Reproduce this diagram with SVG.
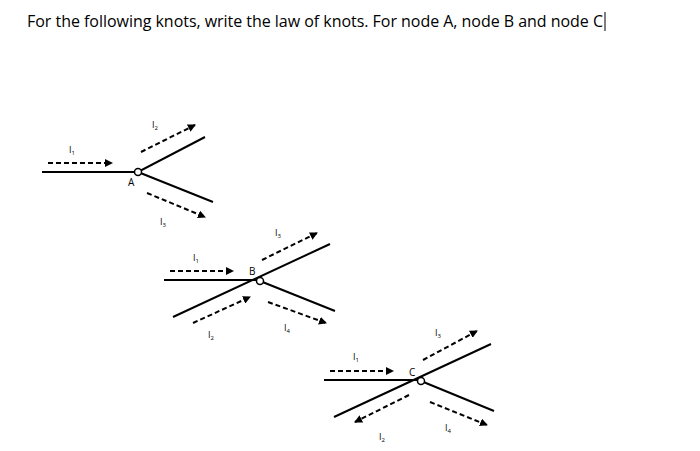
<svg xmlns="http://www.w3.org/2000/svg" width="700" height="451" viewBox="0 0 700 451">
<style>
.w{stroke:#000;stroke-width:2;fill:none}
.d{stroke:#000;stroke-width:2;stroke-dasharray:5,3;fill:none;marker-end:url(#ah)}
.n{fill:#fff;stroke:#000;stroke-width:1.5}
text{font-family:"Open Sans","Liberation Sans",sans-serif;fill:#000}
.l{font-size:9px}
</style>
<defs><marker id="ah" markerWidth="8" markerHeight="8" refX="7" refY="4" orient="auto" markerUnits="userSpaceOnUse"><path d="M0,0L8,4L0,8z"/></marker></defs>
<rect width="700" height="451" fill="#fff"/>
<text x="27" y="27" font-size="16" textLength="576">For the following knots, write the law of knots. For node A, node B and node C</text>
<line x1="605" y1="12" x2="605" y2="31" stroke="#000" stroke-width="1"/>
<g id="connectors">
<path class="w" d="M42,172H138L205,137M138,172L213,202"/>
<path class="d" d="M48,163H112"/><path class="d" d="M141,152L195,125"/><path class="d" d="M147,193L205,217"/>
<path class="w" d="M164,280H260M173,317L330,244M260,281L335,311"/>
<path class="d" d="M170,271H233"/><path class="d" d="M262,260L317,233"/><path class="d" d="M193,323L250,297"/><path class="d" d="M268,302L326,323"/>
<path class="w" d="M324,380H421M334,417L491,344M421,381L494,411"/>
<path class="d" d="M330,371H393"/><path class="d" d="M423,360L477,331"/><path class="d" d="M409,395L355,422"/><path class="d" d="M430,402L487,425"/>
</g>
<g id="nodeA"><circle class="n" cx="138" cy="172" r="3.5"/><text x="128" y="186" font-size="10">A</text></g>
<g id="nodeB"><circle class="n" cx="260" cy="281" r="3.5"/><text x="249" y="275" font-size="10">B</text></g>
<g id="nodeC"><circle class="n" cx="421" cy="381" r="3.5"/><text x="409" y="376" font-size="10">C</text></g>
<g id="labels" class="l">
<text x="69" y="153">I<tspan font-size="6" dy="2">1</tspan></text>
<text x="152" y="128">I<tspan font-size="6" dy="2">2</tspan></text>
<text x="160" y="225">I<tspan font-size="6" dy="2">3</tspan></text>
<text x="193" y="261">I<tspan font-size="6" dy="2">1</tspan></text>
<text x="275" y="236">I<tspan font-size="6" dy="2">3</tspan></text>
<text x="208" y="338">I<tspan font-size="6" dy="2">2</tspan></text>
<text x="284" y="331">I<tspan font-size="6" dy="2">4</tspan></text>
<text x="353" y="360">I<tspan font-size="6" dy="2">1</tspan></text>
<text x="435" y="336">I<tspan font-size="6" dy="2">3</tspan></text>
<text x="379" y="440">I<tspan font-size="6" dy="2">2</tspan></text>
<text x="445" y="431">I<tspan font-size="6" dy="2">4</tspan></text>
</g>
</svg>
